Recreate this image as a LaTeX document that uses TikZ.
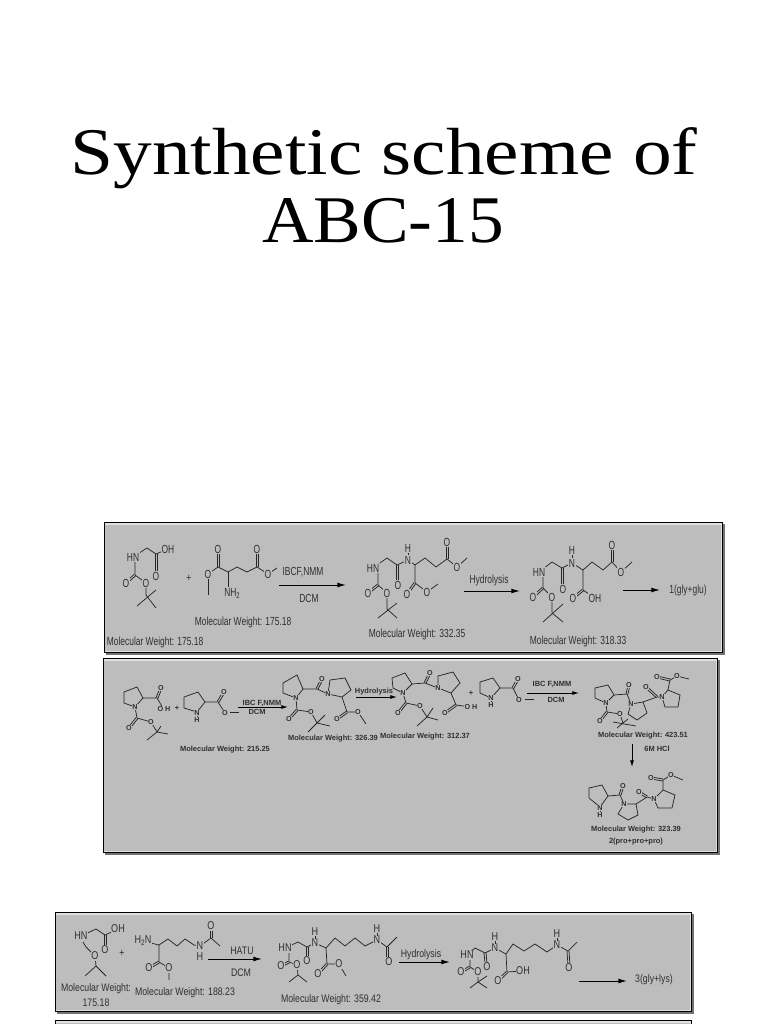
\documentclass[tikz,border=0pt]{standalone}
\usepackage{graphicx}
\usepackage{fontspec}
\setmainfont{Liberation Serif}
\newfontfamily\ttl[FakeStretch=1.16]{Liberation Serif}
\newfontfamily\ttlb[FakeStretch=1.07]{Liberation Serif}
\newfontfamily\nrw[FakeStretch=0.72]{Liberation Sans}
\newfontfamily\nrwc[FakeStretch=0.8]{Liberation Sans}
\newfontfamily\wdb[FakeStretch=1.0]{Liberation Sans}
\usetikzlibrary{arrows.meta,calc}
\definecolor{boxgray}{HTML}{BDBDBD}
\definecolor{txt}{HTML}{303030}
\newcounter{atc}
\tikzset{
  bond/.style={line width=0.55pt,draw=black!85,line join=miter},
  rx/.style={line width=0.75pt,draw=black,-{Latex[length=6.5pt,width=3.6pt]}},
  rxb/.style={line width=0.65pt,draw=black,-{Latex[length=5pt,width=3pt]}},
  atoma/.style={font=\nrw\fontsize{8.8}{9}\selectfont,text=txt,fill=boxgray,inner sep=0.4pt},
  atomb/.style={font=\wdb\bfseries\fontsize{5.4}{6}\selectfont,text=txt,fill=boxgray,inner sep=0.3pt},
  atomc/.style={font=\nrwc\fontsize{8.5}{9}\selectfont,text=txt,fill=boxgray,inner sep=0.4pt},
  laba/.style={font=\nrw\fontsize{8.8}{10}\selectfont,text=txt,inner sep=0pt},
  labb/.style={font=\wdb\bfseries\fontsize{5.6}{7}\selectfont,text=txt,inner sep=0pt},
  labc/.style={font=\nrwc\fontsize{8.2}{10}\selectfont,text=txt,inner sep=0pt,align=center},
  titlefont/.style={font=\ttl\fontsize{50}{52}\selectfont,text=black,inner sep=0pt,anchor=base},
  titlefontb/.style={font=\ttlb\fontsize{50}{52}\selectfont,text=black,inner sep=0pt,anchor=base},
  atom/.style={atoma}
}
\newcommand\A[2]{\stepcounter{atc}\node[atom] (at\theatc) at (#1) {#2};}
\newcommand\D[2]{%
  \draw[bond] ($(#1)!0.75pt!90:(#2)$) -- ($(#2)!0.75pt!-90:(#1)$);
  \draw[bond] ($(#1)!0.75pt!-90:(#2)$) -- ($(#2)!0.75pt!90:(#1)$);
}
\newcommand\panel[4]{%
  \fill[black!55] (#1+2,#2+2) rectangle (#3+3,#4+3);
  \draw[fill=black!12,draw=black,line width=0.7pt] (#1,#2) rectangle (#3,#4);
  \fill[boxgray] (#1+1,#2+3) rectangle (#3-0.6,#4-0.6);
}
\newcommand\sub[1]{\raisebox{-1.5pt}{\scalebox{0.7}{#1}}}
\begin{document}
\begin{tikzpicture}[x=0.75pt,y=-0.75pt]
\useasboundingbox (0,0) rectangle (768,1024);
\fill[white] (0,0) rectangle (768,1024);
\node[titlefont] (title1) at (384,174) {Synthetic scheme of};
\node[titlefontb] (title2) at (383,242) {ABC-15};

\panel{104}{522}{722}{652}
\panel{103}{658}{717}{852}
\panel{55}{912}{691}{1011}
% fourth panel, cut by the page edge
\fill[black!12] (55,1020) rectangle (691,1024);
\fill[boxgray] (56,1023) rectangle (690.4,1024);
\draw[line width=0.7pt] (55,1024) -- (55,1020) -- (691,1020) -- (691,1024);

% ---------- panel 1
\tikzset{atom/.style={atoma}}
\draw[bond] (133,557)--(147,548)--(156,554)--(168,549);
\D{156,554}{156,572}
\draw[bond] (135,560)--(135,575)--(146,583)--(146,595);
\D{135,575}{126,583}
\draw[bond] (137,606)--(156,590) (146,595)--(156,608);
\A{133,557}{HN}\A{168,549}{OH}\A{156,576}{O}\A{126,583}{O}\A{146,583}{O}
\node[labc] (plus1) at (189,578) {+};
\D{218,567}{218,551}
\draw[bond] (208,574)--(218,567)--(228,572)--(237,567)--(247,572)--(257,567)--(268,574)--(277,568);
\draw[bond] (208,574)--(208,595) (228,572)--(228,590);
\D{257,567}{257,551}
\A{218,549}{O}\A{208,574}{O}\A{257,549}{O}\A{268,574}{O}\A{232,593}{NH\sub{2}}
\coordinate (r1s) at (279,585);\coordinate (r1e) at (346,585);
\draw[rx] (r1s)--(r1e);
\node[laba] (r1a) at (303,572) {IBCF,NMM};
\node[laba] (r1b) at (309,598) {DCM};
\node[laba] (mw1b) at (243,622) {Molecular Weight: 175.18};
\node[laba] (mw1a) at (155,642) {Molecular Weight: 175.18};

\draw[bond] (373,568)--(387,558)--(397,565)--(408,560)--(415,565)--(425,558)--(436,567)--(447,559)--(457,567)--(467,558);
\D{397,565}{397,583}
\draw[bond] (378,570)--(378,585)--(387,593)--(387,609);
\D{378,585}{368,593}
\draw[bond] (378,618)--(397,603) (387,609)--(397,618);
\D{447,559}{447,545}
\draw[bond] (408,560)--(408,552);
\draw[bond] (415,565)--(415,583)--(427,592)--(438,584);
\D{415,583}{407,594}
\A{373,568}{HN}\A{408,560}{N}\A{408,548}{H}\A{398,585}{O}\A{368,593}{O}\A{387,593}{O}\A{447,542}{O}\A{457,567}{O}\A{407,594}{O}\A{427,592}{O}
\node[laba] (mw1c) at (417,634) {Molecular Weight: 332.35};
\coordinate (r2s) at (464,591);\coordinate (r2e) at (520,591);
\draw[rx] (r2s)--(r2e);
\node[laba] (r2a) at (489,580) {Hydrolysis};

\draw[bond] (539,572)--(552,562)--(562,568)--(572,563)--(583,570)--(592,562)--(603,570)--(612,562)--(621,572)--(632,562);
\D{562,568}{562,586}
\draw[bond] (543,575)--(543,588)--(552,597)--(552,613);
\D{543,588}{533,597}
\draw[bond] (543,622)--(563,604) (552,613)--(563,622);
\D{612,562}{612,548}
\draw[bond] (572,563)--(572,554);
\draw[bond] (583,570)--(583,590)--(595,598);
\D{583,590}{573,598}
\A{539,572}{HN}\A{572,563}{N}\A{572,550}{H}\A{563,589}{O}\A{533,597}{O}\A{552,597}{O}\A{612,545}{O}\A{621,572}{O}\A{573,598}{O}\A{595,598}{OH}
\node[laba] (mw1d) at (578,641) {Molecular Weight: 318.33};
\coordinate (r3s) at (623,590);\coordinate (r3e) at (660,590);
\draw[rx] (r3s)--(r3e);
\node[laba] (p1) at (688,590) {1(gly+glu)};

% ---------- panel 2
\tikzset{atom/.style={atomb}}
\draw[bond] (135,707)--(124,703)--(124,692)--(137,687)--(143,698)--cycle;
\draw[bond] (143,698)--(157,698)--(163,708);
\D{157,698}{161,688}
\draw[bond] (135,707)--(137,718)--(151,722)--(157,732);
\D{137,718}{129,728}
\draw[bond] (147,740)--(157,732)--(168,734) (157,732)--(161,726);
\A{135,707}{N}\A{161,688}{O}\A{164,709}{O H}\A{129,728}{O}\A{151,722}{O}
\node[labb] (plus2) at (177,708) {+};
\draw[bond] (197,712)--(184,708)--(184,697)--(198,692)--(205,702)--cycle;
\draw[bond] (205,702)--(218,702)--(225,713);
\D{218,702}{224,692}
\draw[bond] (230,712)--(239,712);
\draw[bond] (197,712)--(197,720);
\A{197,713}{N}\A{197,720}{H}\A{224,692}{O}\A{225,713}{O}
\coordinate (r4s) at (238,707);\coordinate (r4e) at (288,707);
\draw[rxb] (r4s)--(r4e);
\node[labb] (r4a) at (262,703) {IBC F,NMM};
\node[labb] (r4b) at (257,712) {DCM};
\node[labb] (mw2a) at (225,750) {Molecular Weight: 215.25};

\draw[bond] (296,698)--(283,693)--(283,683)--(297,675)--(303,689)--cycle;
\draw[bond] (303,689)--(317,689)--(328,694);
\D{317,689}{322,679}
\draw[bond] (328,694)--(330,680)--(345,678)--(351,690)--(342,697)--cycle;
\draw[bond] (342,697)--(347,712)--(358,712)--(366,724);
\D{347,712}{337,719}
\draw[bond] (296,698)--(297,710)--(311,712)--(317,723);
\D{297,710}{289,719}
\draw[bond] (308,732)--(317,723)--(330,726) (317,723)--(325,715);
\A{296,698}{N}\A{322,679}{O}\A{328,694}{N}\A{337,719}{O}\A{358,712}{O}\A{289,719}{O}\A{311,712}{O}
\node[labb] (mw2b) at (333,739) {Molecular Weight: 326.39};
\coordinate (r5s) at (356,697);\coordinate (r5e) at (397,697);
\draw[rxb] (r5s)--(r5e);
\node[labb] (r5a) at (374,692) {Hydrolysis};

\draw[bond] (403,693)--(393,688)--(392,678)--(405,673)--(412,684)--cycle;
\draw[bond] (412,684)--(425,683)--(438,688);
\D{425,683}{430,673}
\draw[bond] (438,688)--(438,676)--(453,672)--(460,683)--(451,693)--cycle;
\draw[bond] (451,693)--(456,705)--(470,707);
\D{456,705}{445,713}
\draw[bond] (403,693)--(406,703)--(420,706)--(427,717);
\D{406,703}{398,713}
\draw[bond] (417,726)--(427,717)--(438,720) (427,717)--(433,708);
\A{403,693}{N}\A{430,673}{O}\A{438,688}{N}\A{445,713}{O}\A{471,707}{O H}\A{398,713}{O}\A{420,706}{O}
\node[labb] (mw2c) at (425,737) {Molecular Weight: 312.37};
\node[labb] (plus3) at (471,693) {+};
\draw[bond] (491,698)--(480,693)--(480,682)--(493,678)--(500,688)--cycle;
\draw[bond] (500,688)--(513,688)--(519,700);
\D{513,688}{518,679}
\draw[bond] (525,699)--(534,699);
\draw[bond] (491,698)--(491,705);
\A{491,698}{N}\A{491,705}{H}\A{518,679}{O}\A{519,700}{O}
\coordinate (r6s) at (527,693);\coordinate (r6e) at (579,693);
\draw[rxb] (r6s)--(r6e);
\node[labb] (r6a) at (552,684) {IBC F,NMM};
\node[labb] (r6b) at (556,700) {DCM};

\draw[bond] (606,703)--(595,698)--(595,688)--(608,685)--(614,695)--cycle;
\draw[bond] (614,695)--(627,694)--(631,704);
\D{627,694}{629,685}
\draw[bond] (631,704)--(628,714)--(637,720)--(647,713)--(643,702)--cycle;
\draw[bond] (643,702)--(657,697)--(662,697);
\D{657,697}{646,687}
\draw[bond] (662,697)--(665,707)--(678,707)--(680,695)--(668,690)--cycle;
\draw[bond] (668,690)--(670,680)--(677,676)--(689,679);
\D{670,680}{657,677}
\draw[bond] (606,703)--(607,712)--(620,714)--(623,723);
\D{607,712}{600,721}
\draw[bond] (613,722)--(636,726) (617,728)--(623,723)--(628,719);
\A{606,703}{N}\A{629,685}{O}\A{631,704}{N}\A{646,687}{O}\A{662,697}{N}\A{657,677}{O}\A{677,676}{O}\A{600,721}{O}\A{620,714}{O}
\node[labb] (mw2d) at (643,736) {Molecular Weight: 423.51};
\coordinate (r7s) at (632,744);\coordinate (r7e) at (632,767);
\draw[rxb] (r7s)--(r7e);
\node[labb] (r7a) at (657,749) {6M HCl};

\draw[bond] (600,807)--(589,798)--(589,788)--(602,785)--(608,796)--cycle;
\draw[bond] (608,796)--(620,795)--(624,804);
\D{620,795}{623,786}
\draw[bond] (624,804)--(618,814)--(628,820)--(638,815)--(636,804)--cycle;
\draw[bond] (636,804)--(647,797)--(654,799);
\D{647,797}{639,792}
\draw[bond] (654,799)--(658,808)--(672,808)--(675,795)--(663,790)--cycle;
\draw[bond] (663,790)--(663,780)--(671,775)--(683,780);
\D{663,780}{651,778}
\draw[bond] (600,807)--(600,815);
\A{600,808}{N}\A{600,815}{H}\A{623,786}{O}\A{624,804}{N}\A{639,792}{O}\A{654,799}{N}\A{651,778}{O}\A{671,775}{O}
\node[labb] (mw2e) at (636,830) {Molecular Weight: 323.39};
\node[labb] (p2) at (636,842) {2(pro+pro+pro)};

% ---------- panel 3
\tikzset{atom/.style={atomc}}
\draw[bond] (81,936)--(96,929)--(105,935)--(118,929);
\D{105,935}{105,948}
\draw[bond] (83,942)--(86,947)--(95,956)--(96,966);
\draw[bond] (85,976)--(96,966)--(106,976);
\A{81,936}{HN}\A{118,929}{OH}\A{105,950}{O}\A{95,956}{O}
\node[labc] (plus4) at (122,953) {+};
\draw[bond] (143,941)--(159,945)--(168,939)--(177,946)--(185,939)--(194,945)--(200,946)--(211,938)--(220,946);
\D{211,938}{211,929}
\draw[bond] (159,945)--(159,962)--(169,968)--(169,980);
\D{159,962}{149,968}
\A{143,941}{H\sub{2}N}\A{200,946}{N}\A{200,957}{H}\A{211,926}{O}\A{149,968}{O}\A{169,968}{O}
\coordinate (r8s) at (208,959);\coordinate (r8e) at (262,959);
\draw[rx] (r8s)--(r8e);
\node[labc] (r8a) at (242,951) {HATU};
\node[labc] (r8b) at (241,973) {DCM};
\node[labc] (mw3a) at (96,995) {Molecular Weight:\\[1.5pt]175.18};
\node[labc] (mw3b) at (185,993) {Molecular Weight: 188.23};

\draw[bond] (285,948)--(298,942)--(307,947)--(315,943)--(326,948)--(335,938)--(345,946)--(355,938)--(365,946)--(377,940)--(387,947)--(397,937);
\D{307,947}{307,958}
\draw[bond] (315,943)--(315,936) (377,940)--(377,933);
\draw[bond] (289,953)--(289,962)--(297,965)--(298,975);
\D{289,962}{281,966}
\draw[bond] (289,982)--(298,975)--(307,982);
\D{387,947}{387,959}
\draw[bond] (326,948)--(327,964)--(339,964)--(346,976);
\D{327,964}{318,974}
\A{285,948}{HN}\A{315,943}{N}\A{315,932}{H}\A{307,961}{O}\A{281,966}{O}\A{297,965}{O}\A{377,940}{N}\A{377,929}{H}\A{389,962}{O}\A{318,974}{O}\A{339,964}{O}
\node[labc] (mw3c) at (331,1000) {Molecular Weight: 359.42};
\coordinate (r9s) at (399,962);\coordinate (r9e) at (450,962);
\draw[rx] (r9s)--(r9e);
\node[labc] (r9a) at (421,955) {Hydrolysis};

\draw[bond] (467,955)--(475,948)--(485,953)--(495,948)--(506,954)--(513,944)--(524,951)--(535,944)--(547,952)--(557,945)--(568,951)--(577,942);
\D{485,953}{486,963}
\draw[bond] (495,948)--(495,941) (557,945)--(557,938);
\draw[bond] (470,960)--(470,967)--(478,972)--(478,982);
\D{470,967}{461,972}
\draw[bond] (470,988)--(478,982)--(487,988) (478,982)--(487,976);
\D{568,951}{569,965}
\draw[bond] (506,954)--(507,972)--(523,971);
\D{507,972}{498,981}
\A{467,955}{HN}\A{495,948}{N}\A{495,937}{H}\A{487,967}{O}\A{461,972}{O}\A{478,972}{O}\A{557,945}{N}\A{557,934}{H}\A{569,968}{O}\A{498,981}{O}\A{523,971}{OH}
\coordinate (r10s) at (579,981);\coordinate (r10e) at (627,981);
\draw[rx] (r10s)--(r10e);
\node[labc] (p3) at (654,980) {3(gly+lys)};
\end{tikzpicture}
\end{document}
